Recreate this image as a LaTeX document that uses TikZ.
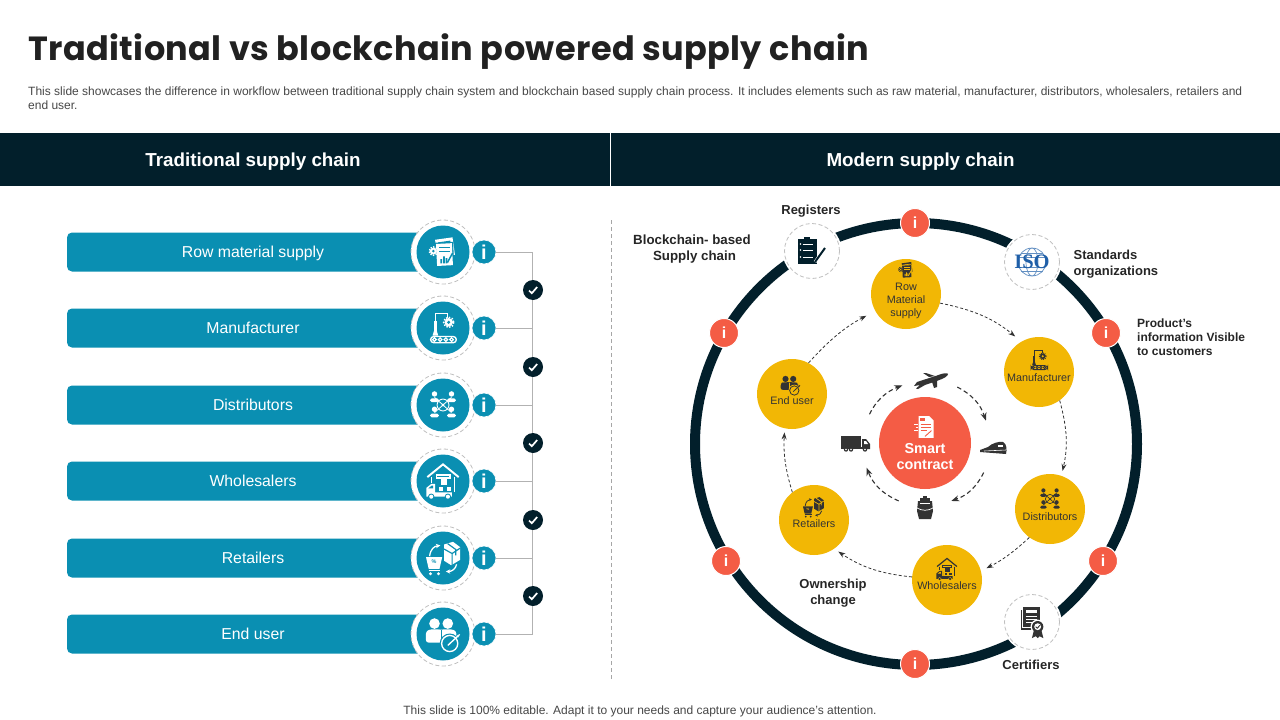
\documentclass[tikz,border=0pt]{standalone}
\usepackage{fontspec}
\setmainfont{Liberation Sans}
\newfontfamily\titlefont[LetterSpace=1.2]{Poppins}
\newfontfamily\isofont{Liberation Serif}
\usetikzlibrary{arrows.meta,calc}
\definecolor{navy}{HTML}{021F2B}
\definecolor{teal}{HTML}{0A8FB2}
\definecolor{coral}{HTML}{F45C45}
\definecolor{gold}{HTML}{F2B705}
\definecolor{txtgrey}{HTML}{474747}
\definecolor{icongrey}{HTML}{333333}
\definecolor{isoblue}{HTML}{1F5FA8}
\newcommand\fs[1]{\fontsize{#1}{#1}\selectfont}
\tikzset{
  barbox/.style={fill=teal,rounded corners=5pt,minimum width=372pt,minimum height=39pt,inner sep=0pt,text=white,font=\fs{15.8},text height=12pt,text depth=1pt},
  ringwhite/.style={circle,fill=white,minimum size=64pt,inner sep=0pt},
  dashring/.style={circle,draw=black!25,dashed,dash pattern=on 4pt off 2.5pt,line width=.8pt,fill=white,minimum size=#1,inner sep=0pt},
  tealdisc/.style={circle,fill=teal,minimum size=53pt,inner sep=0pt},
  infosmall/.style={circle,fill=teal,draw=white,line width=.6pt,minimum size=24pt,inner sep=0pt,text=white,font=\fs{20}\bfseries},
  inforing/.style={circle,fill=coral,draw=white,line width=1pt,minimum size=29pt,inner sep=0pt,text=white,font=\fs{16}\bfseries},
  checkdot/.style={circle,fill=navy,minimum size=20pt,inner sep=0pt},
  golddisc/.style={circle,fill=gold,minimum size=70pt,inner sep=0pt,align=center},
  goldtext/.style={font=\fontsize{10.8}{13}\selectfont,text=black!80,align=center,inner sep=0pt},
  stem/.style={draw=black!30,line width=.9pt},
  flow/.style={draw=icongrey,line width=.8pt,dash pattern=on 3pt off 2.2pt,-{Stealth[length=7pt,width=5pt]}},
  flowb/.style={draw=icongrey,line width=1.1pt,dash pattern=on 4.5pt off 3pt,-{Stealth[length=8pt,width=6pt]}},
  hub/.style={circle,minimum size=54pt,inner sep=0pt},
  lab/.style={font=\fs{13}\bfseries,text=black!85,align=center,inner sep=0pt},
}
% --- icons, drawn in a local box of about 40 x 40 ---
\newcommand\placeicon[6]{\begin{scope}[shift={(#1,#2)},scale=#3]\colorlet{fg}{#4}\colorlet{bg}{#5}\pgfmathsetlengthmacro\lw{#3*1.3pt}\tikzset{every path/.append style={line width=\lw}}#6\end{scope}}
\newcommand\icGear[3]{\fill[fg] (#1,#2) circle (#3);\draw[fg,line width=\lw*1.2,dash pattern=on \lw*1.2 off \lw*1.2] (#1,#2) circle (#3*1.2);\fill[bg] (#1,#2) circle (#3*.4);}
\newcommand\icPerson[3]{\fill[fg] (#1,#2) circle (#3);\fill[fg,rounded corners=#3*.5] (#1-#3*1.6,#2+#3*3) -- (#1-#3*1.6,#2+#3*1.6) -- (#1+#3*1.6,#2+#3*1.6) -- (#1+#3*1.6,#2+#3*3) -- cycle;}
\newcommand\icDoc{
  \fill[fg,rotate=8] (-7,-15) rectangle (13,5);
  \draw[bg,rotate=8] (-4,-11) -- (10,-11) (-4,-7) -- (10,-7);
  \fill[bg,rotate=3] (-9,-11) rectangle (12,17);
  \fill[fg,rotate=3] (-7.5,-9.5) rectangle (10.5,15.5);
  \draw[bg] (-4,-5) -- (8,-5) (-4,-1) -- (8,-1);
  \fill[bg] (-3,13) rectangle (-1,8) (0,13) rectangle (2,5) (3,13) rectangle (5,7);
  \draw[bg,line width=\lw*1.3] (5,12) -- (11,1);
  \icGear{-11}{-1}{4}
}
\newcommand\icFactory{
  \draw[fg,line width=\lw*1.1] (-8,4) -- (-8,-15) -- (5,-15) -- (5,-11);
  \fill[fg] (-10,4) rectangle (-6,-7);
  \fill[fg] (-11,8) -- (-9.5,3) -- (-6.5,3) -- (-5,8) -- cycle;
  \icGear{6}{-6}{4.5}
  \draw[fg,line width=\lw*1.1,rounded corners=3pt] (-13,9) rectangle (14,15.5);
  \foreach \u in {-9,-3,3,9}{\draw[fg] (\u,12.2) circle (1.9);}
}
\newcommand\icNet{
  \draw[fg,line width=\lw*.7] (-10,-9) -- (10,9) (10,-9) -- (-10,9);
  \draw[fg,line width=\lw*.8] (0,0) circle (7);
  \fill[fg] (0,0) circle (1.8);
  \foreach \u/\v in {-10/-13,10/-13,-10/5,10/5}{\icPerson{\u}{\v}{3.2}}
}
\newcommand\icHouse{
  \draw[fg,line width=\lw*1.5,line join=miter] (-16,-4) -- (0,-17) -- (16,-4);
  \draw[fg,line width=\lw] (-12,-4) -- (-12,2) (12,-4) -- (12,11);
  \draw[fg] (-7,-6) rectangle (7,-3);
  \fill[fg] (-2.5,-3) rectangle (4.5,5);
  \fill[fg] (-5,5) rectangle (1,11) (3,5) rectangle (9,11);
  \draw[bg] (-5,5) rectangle (1,11) (3,5) rectangle (9,11);
  \fill[fg] (-17,14) -- (-17,7) -- (-12,3) -- (-8,3) -- (-8,11.5) -- (9,11.5) -- (9,16) -- (-17,16) -- cycle;
  \fill[bg] (-15,7.5) -- (-11.5,4.7) -- (-10,4.7) -- (-10,7.5) -- cycle;
  \foreach \u in {-12,5}{\fill[bg] (\u,16) circle (3.2);\fill[fg] (\u,16) circle (2.1);}
}
\newcommand\icCart{
  \fill[fg] (-20,-1) -- (-2,-1) -- (-5,12) -- (-17,12) -- cycle;
  \node[text=bg,font=\fs{6}\bfseries,inner sep=0pt,transform shape] at (-11,4.5) {\%};
  \draw[fg] (-17,14) -- (-4,14);
  \fill[fg] (-15,17.5) circle (1.8) (-6,17.5) circle (1.8);
  \fill[fg] (0,-15) -- (10,-18) -- (18,-12) -- (18,2) -- (8,8) -- (0,3) -- cycle;
  \draw[bg] (0,-10) -- (9,-5) -- (18,-11) (9,-5) -- (9,8) (4,-16) -- (13,-9.5) -- (13,-3);
  \draw[fg,line width=\lw*1.1,-{Stealth[length=5pt*\lw/1.3pt,width=5pt*\lw/1.3pt]}] (-16,-2) .. controls (-15,-10) and (-11,-13) .. (-4,-14);
  \draw[fg,line width=\lw*1.1,-{Stealth[length=5pt*\lw/1.3pt,width=5pt*\lw/1.3pt]}] (14,7) .. controls (13,12) and (9,15) .. (2,15);
}
\newcommand\icUsers{
  \fill[fg] (-10,-11) circle (5.6) (4,-11) circle (5.6);
  \fill[fg,rounded corners=2.5pt] (-19,9) -- (-19,-3) -- (-14,-5) -- (-6,-5) -- (-3,-4) -- (0,-5) -- (8,-5) -- (13,-3) -- (13,3) -- (4,9) -- cycle;
  \draw[bg] (-3,-4) -- (-3,9);
  \fill[bg] (6,10) circle (10.5);
  \draw[fg,line width=\lw*1.1] (6,10) circle (8.5);
  \draw[fg,line width=\lw*1.1,-{Stealth[length=4pt*\lw/1.3pt]}] (4,12) -- (17,0);
}
\newcommand\icBoard{
  \fill[fg] (-13,-11) rectangle (6,14);
  \fill[fg] (-7,-13) rectangle (-1,-10);
  \foreach \u in {-6,0,7}{\fill[bg] (-10.5,\u) circle (.9);\draw[bg,line width=.6pt] (-8.5,\u) -- (2,\u);}
  \draw[bg,line width=3pt] (4,12) -- (14,-2);
  \draw[fg,line width=2pt] (4,12) -- (14,-2);
}
\newcommand\icCert{
  \fill[fg] (-11,-12) rectangle (6,9);
  \fill[bg] (-9,-14) rectangle (9,7);
  \fill[fg] (-8,-15) rectangle (9,6);
  \fill[bg] (-5,-12) rectangle (6,-8);
  \draw[bg,line width=.7pt] (-5,-5) -- (6,-5) (-5,-2) -- (6,-2) (-5,1) -- (1,1);
  \fill[bg] (7,6) circle (7.5);
  \fill[fg] (3,10) -- (1,18) -- (5,16) -- (7,18) -- (9,16) -- (13,18) -- (11,10) -- cycle;
  \fill[fg] (7,6) circle (6);
  \fill[bg] (7,6) circle (3.6);
  \draw[fg,line width=.9pt] (5,6) -- (6.6,7.5) -- (9.5,4.5);
}
\newcommand\icContract{
  \fill[fg] (-9,-15) -- (6,-15) -- (12,-9) -- (12,15) -- (-9,15) -- cycle;
  \fill[bg] (-7,-13) rectangle (0,-9);
  \draw[bg,line width=.7pt] (-6,-4) -- (8,-4) (-6,0) -- (8,0) (-6,4) -- (3,4);
  \draw[bg,line width=.9pt] (0,13) -- (9,5);
  \draw[fg,line width=.7pt] (-15,-4) -- (-10,-4) (-13,0) -- (-10,0) (-15,4) -- (-10,4);
}
\begin{document}
\begin{tikzpicture}[x=1pt,y=-1pt]
\useasboundingbox (0,0) rectangle (1280,720);
\fill[white] (0,0) rectangle (1280,720);
% header texts
\node[anchor=base west,inner sep=0pt,font=\titlefont\fs{33.5}\bfseries,text=black!87] (title) at (28,60) {Traditional vs blockchain powered supply chain};
\node[anchor=base west,inner sep=0pt,font=\fs{12},text=txtgrey] (introa) at (28,95) {This slide showcases the difference in workflow between traditional supply chain system and blockchain based supply chain process. It includes elements such as raw material, manufacturer, distributors, wholesalers, retailers and};
\node[anchor=base west,inner sep=0pt,font=\fs{12},text=txtgrey] (introb) at (28,109) {end user.};
% band
\fill[navy] (0,133) rectangle (1280,186);
\draw[white,line width=1pt] (610.5,133) -- (610.5,186);
\node[font=\fs{18.8}\bfseries,text=white,inner sep=0pt,anchor=base] (headl) at (253,166) {Traditional supply chain};
\node[font=\fs{18.8}\bfseries,text=white,inner sep=0pt,anchor=base] (headr) at (920.5,166) {Modern supply chain};
\draw[black!35,line width=.7pt,dashed,dash pattern=on 4pt off 3pt] (611,220) -- (611,680);
% left column
\foreach \n/\y/\t in {1/252/Row material supply,2/328/Manufacturer,3/405/Distributors,4/481/Wholesalers,5/558/Retailers,6/634/End user}{
  \node[barbox] (bar\n) at (253,\y) {\t};
  \node[dashring=64pt] (ring\n) at (443,\y) {};
  \node[ringwhite,minimum size=60pt] at (442,\y) {};
  \node[tealdisc] (disc\n) at (443,\y) {};
  \node[infosmall] (inf\n) at (484,\y) {i};
  \coordinate (sp\n) at (532.5,\y);
  \draw[stem] (inf\n.east) -- (sp\n);
}
\draw[stem] (sp1) -- (sp6);
\foreach \n/\y in {1/290,2/367,3/443,4/520,5/596}{
  \node[checkdot] (chk\n) at (533,\y) {};
  \draw[white,line width=1.7pt] ($(chk\n)+(-4,0.5)$) -- ($(chk\n)+(-1.2,3.2)$) -- ($(chk\n)+(4.2,-3)$);
}
\placeicon{443}{252}{.88}{white}{teal}{\icDoc}
\placeicon{443}{328}{.95}{white}{teal}{\icFactory}
\placeicon{443}{405}{.85}{white}{teal}{\icNet}
\placeicon{443}{481}{.98}{white}{teal}{\icHouse}
\placeicon{444}{558}{.9}{white}{teal}{\icCart}
\placeicon{444}{634}{.95}{white}{teal}{\icUsers}
% ring
\node[circle,draw=navy,line width=10pt,minimum size=442pt,inner sep=0pt] (bigring) at (916,444) {};
\node[circle,fill=white,minimum size=59pt,inner sep=0pt] at (812,251) {};
\node[circle,fill=white,minimum size=59pt,inner sep=0pt] at (1032,262) {};
\node[circle,fill=white,minimum size=59pt,inner sep=0pt] at (1032,622) {};
\node[dashring=55pt] (reg) at (812,251) {};
\node[dashring=55pt] (iso) at (1032,262) {};
\node[dashring=55pt] (cert) at (1032,622) {};
\placeicon{811}{250}{1}{navy}{white}{\icBoard}
\placeicon{1031}{621}{.95}{icongrey}{white}{\icCert}
\begin{scope}
  \draw[isoblue!70,line width=.7pt] (1032,262) ellipse (14pt and 14pt) (1032,262) ellipse (6pt and 14pt);
  \draw[isoblue!70,line width=.6pt] (1021,253) -- (1043,253) (1019,257) -- (1045,257) (1019,267) -- (1045,267) (1021,271) -- (1043,271);
  \node[font=\isofont\fs{20.5}\bfseries,text=isoblue,inner sep=0pt] (isotext) at (1032,262) {ISO};
\end{scope}
\foreach \n/\x/\y in {1/915/223,2/724/333,3/1106/333,4/726/561,5/1103/561,6/915/664}{
  \node[inforing] (red\n) at (\x,\y) {i};
}
% gold discs
\node[golddisc] (row) at (906,294) {};
\node[golddisc] (manu) at (1039,372) {};
\node[golddisc] (dist) at (1050,509) {};
\node[golddisc] (whol) at (947,580) {};
\node[golddisc] (reta) at (814,520) {};
\node[golddisc] (endu) at (792,394) {};
\node[goldtext] at (906,301) {Row\\Material\\supply};
\node[goldtext] at (1039,378) {Manufacturer};
\node[goldtext] at (1050,517) {Distributors};
\node[goldtext] at (947,586) {Wholesalers};
\node[goldtext] at (814,524) {Retailers};
\node[goldtext] at (792,401) {End user};
\placeicon{906}{270}{.48}{icongrey}{gold}{\icDoc}
\placeicon{1039}{360}{.62}{icongrey}{gold}{\icFactory}
\placeicon{1050}{499}{.66}{icongrey}{gold}{\icNet}
\placeicon{947}{569}{.62}{icongrey}{gold}{\icHouse}
\placeicon{814}{507}{.55}{icongrey}{gold}{\icCart}
\placeicon{791}{385}{.55}{icongrey}{gold}{\icUsers}
% flows
\draw[flow,shorten >=8pt] (row.-15) to[bend left=14] (manu.120);
\draw[flow,shorten >=5pt] (manu.-54) to[bend left=14] (dist.71);
\draw[flow,shorten >=6pt] (dist.-126) to[bend left=8] (whol.15);
\draw[flow,shorten >=5pt] (whol.175) to[bend left=14] (reta.-55);
\draw[flow,shorten >=4pt] (reta.128) to[bend left=10] (endu.-102);
\draw[flow,shorten >=10pt] (endu.62) to[bend left=10] (row.-151);
% centre
\node[circle,fill=coral,minimum size=92pt,inner sep=0pt] (smart) at (925,443) {};
\node[font=\fs{14.4}\bfseries,text=white,align=center,inner sep=0pt] at (925,456.5) {Smart\\[1.5pt]contract};
\placeicon{925}{427}{.72}{white}{coral}{\icContract}
\node[hub] (plane) at (931,380) {};
\node[hub] (train) at (993,447) {};
\node[hub] (ship) at (925,508) {};
\node[hub] (truck) at (855,443) {};
\draw[flowb] (plane.-15) to[bend left=22] (train.105);
\draw[flowb] (train.-110) to[bend left=22] (ship.15);
\draw[flowb] (ship.165) to[bend left=22] (truck.-65);
\draw[flowb,shorten <=5pt,shorten >=2pt] (truck.63) to[bend left=22] (plane.190);
% plane
\fill[icongrey] (914,386) -- (917,382) -- (937,375.5) .. controls (943,373) and (948,372.5) .. (948,374) .. controls (948,376) and (944,378.5) .. (938,380.5) -- (925,385) -- (918,389) -- (916,388.5) -- (920,385) -- cycle;
\fill[icongrey] (929,377) -- (923,373) -- (926,373) -- (935,376) -- cycle;
\fill[icongrey] (932,382) -- (934,388) -- (937,387) -- (937,380) -- cycle;
% truck
\fill[icongrey] (841,436) rectangle (861,447);
\fill[icongrey] (862,439) -- (866,439) -- (870,444) -- (870,449) -- (862,449) -- cycle;
\fill[icongrey] (841,447) rectangle (870,449);
\foreach \u in {846,851,865}{\fill[icongrey] (\u,449.5) circle (2.2);\fill[white] (\u,449.5) circle (.9);}
\fill[white] (864,441) -- (866,441) -- (868,444) -- (864,444) -- cycle;
% train
\fill[icongrey] (980,450) -- (988,447) .. controls (992,443) and (1000,441) .. (1003,442) .. controls (1007,444) and (1007,450) .. (1006,454) -- (993,453) -- (980,452) -- cycle;
\draw[white,line width=.6pt] (984,451) -- (1006,450);
\fill[white] (998,445) rectangle (1003,447);
% ship
\fill[icongrey] (918,501) -- (932,501) -- (933,511) -- (931,519) -- (919,519) -- (917,511) -- cycle;
\fill[icongrey] (920,498) rectangle (930,501);
\fill[icongrey] (923,496) rectangle (927,498);
\draw[white,line width=.7pt] (917,508) .. controls (922,511) and (928,511) .. (933,508);
\draw[white,line width=.6pt] (920,503.5) -- (930,503.5);
% outer labels
\node[lab] (lreg) at (811,211.5) {Registers};
\node[lab,font=\fs{13.3}\bfseries] (lbb) at (692,249) {Blockchain- based\\[3pt]\hspace*{5pt}Supply chain};
\node[lab,anchor=north west,align=left] (lstd) at (1073.5,250) {Standards\\[3pt]organizations};
\node[lab,font=\fs{12}\bfseries,anchor=north west,align=left] (lprod) at (1137,319) {Product's\\[2pt]information Visible\\[2pt]to customers};
\node[lab] (lown) at (833,593) {Ownership\\[3pt]change};
\node[lab] (lcert) at (1031,665) {Certifiers};
\node[font=\fs{12},text=txtgrey,inner sep=0pt] (foot) at (640,711) {This slide is 100\% editable. Adapt it to your needs and capture your audience's attention.};
\end{tikzpicture}
\end{document}
